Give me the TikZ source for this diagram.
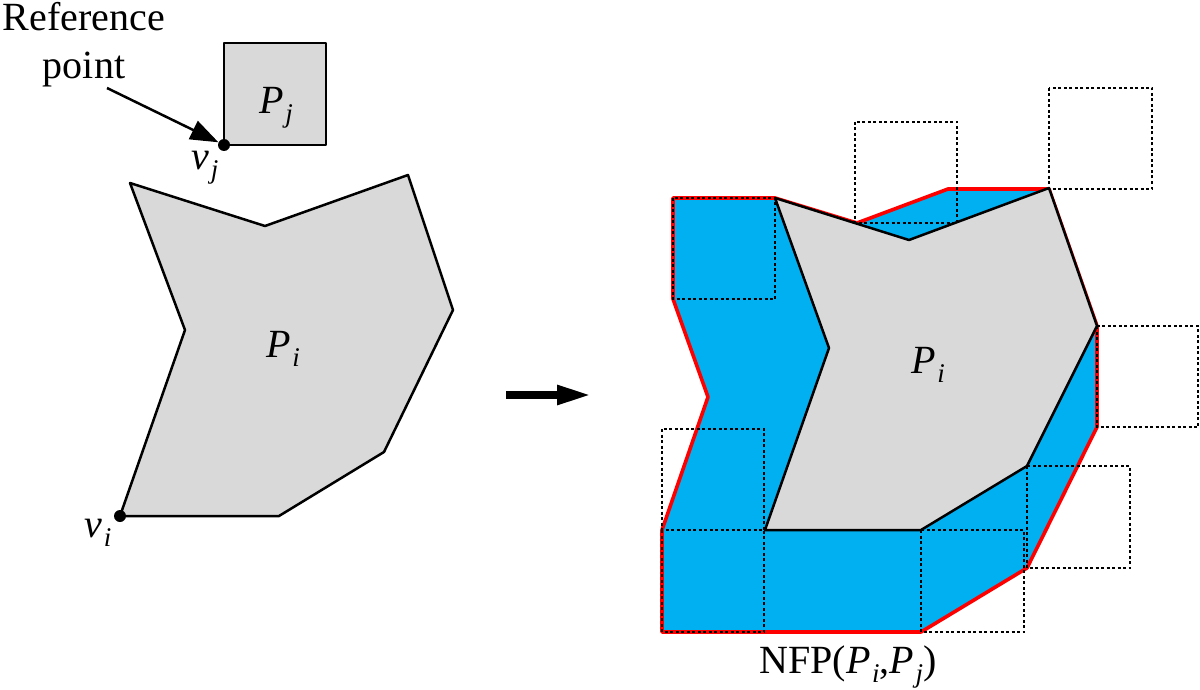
\documentclass[tikz,border=0pt]{standalone}
\usepackage{fontspec}
\setmainfont{Liberation Serif}
\usetikzlibrary{arrows.meta}
\definecolor{pgray}{HTML}{D9D9D9}
\definecolor{nfpblue}{HTML}{00B0F0}
\definecolor{nfpred}{HTML}{FF0000}
\newcommand{\sublbl}[2]{\textit{#1}\kern0.04em\raisebox{-9pt}{\fontsize{27}{30}\selectfont\textit{#2}}}
\begin{document}
\begin{tikzpicture}[x=1pt,y=-1pt,
  font=\fontsize{40}{48}\selectfont,
  poly/.style={fill=pgray,draw=black,line width=2.5pt,line join=round},
  nfpline/.style={draw=nfpred,line width=3.6pt,line join=round},
  ghost/.style={draw=black,line width=2.2pt,dash pattern=on 3pt off 2.5pt},
  vdot/.style={circle,fill=black,inner sep=0pt,minimum size=12pt},
  lbl/.style={inner sep=0pt,anchor=base}]
\useasboundingbox (0,0) rectangle (1200,690);

% ---- left: P_i and P_j ----
\draw[poly] (120,516) -- (279,516) -- (384,452) -- (453,310) -- (408,175)
  -- (265,226) -- (130,183) -- (185,330) -- cycle;
\draw[poly] (224,43) rectangle (326,145);
\node[vdot] (vi) at (120,516) {};
\node[vdot] (vj) at (224,145) {};

\node[lbl] (pj) at (276,114) {\sublbl{P}{j}};
\node[lbl] (pil) at (283,357) {\sublbl{P}{i}};
\node[lbl] (vjl) at (205,170) {\sublbl{v}{j}};
\node[lbl] (vil) at (98,537) {\sublbl{v}{i}};
\node[lbl] (ref1) at (84,31) {Reference};
\node[lbl] (ref2) at (84,79) {point};
\coordinate (refarr) at (107,88);
\draw[line width=2.5pt,-{Triangle[length=28pt,width=20pt]}] (refarr) -- (vj);

% ---- middle arrow ----
\coordinate (ma) at (506,395);
\coordinate (mb) at (592,395);
\draw[line width=8pt,-{Triangle[length=35pt,width=18pt]}] (ma) -- (mb);

% ---- right: NFP ----
\fill[nfpblue] (673,198) -- (775,198) -- (857,223) -- (948,189) -- (1049,189)
  -- (1097,326) -- (1097,427) -- (1027,568) -- (921,632) -- (662,632)
  -- (662,530) -- (708,397) -- (673,299) -- cycle;
\draw[nfpline] (673,198) -- (775,198) -- (857,223) -- (948,189) -- (1049,189)
  -- (1097,326) -- (1097,427) -- (1027,568) -- (921,632) -- (662,632)
  -- (662,530) -- (708,397) -- (673,299) -- cycle;
\draw[poly] (765,530) -- (921,530) -- (1027,466) -- (1097,326) -- (1049,188)
  -- (909,240) -- (775,198) -- (829,348) -- cycle;

\draw[ghost] (673,198) rectangle (775,299);
\draw[ghost] (855,122) rectangle (957,223);
\draw[ghost] (1049,88) rectangle (1152,189);
\draw[ghost] (1097,326) rectangle (1198,427);
\draw[ghost] (1027,466) rectangle (1130,568);
\draw[ghost] (921,530) rectangle (1024,632);
\draw[ghost] (662,429) rectangle (764,530);
\draw[ghost] (662,530) rectangle (764,632);

\node[lbl] (pir) at (928,373) {\sublbl{P}{i}};
\node[lbl] (nfp) at (848,673) {NFP(\sublbl{P}{i},\sublbl{P}{j})};
\end{tikzpicture}
\end{document}
